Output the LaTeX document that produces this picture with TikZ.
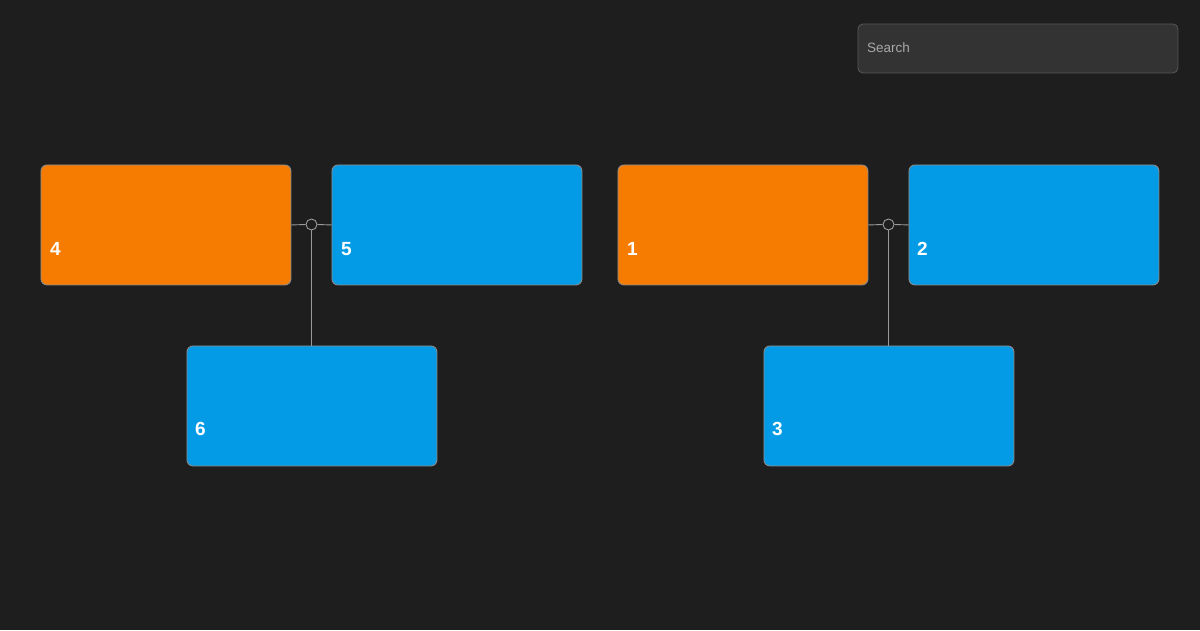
\documentclass[tikz,border=0pt]{standalone}
\usepackage{fontspec}
\setmainfont{Liberation Sans}
\definecolor{bg}{HTML}{1E1E1E}
\definecolor{orangebox}{HTML}{F57C00}
\definecolor{bluebox}{HTML}{039BE5}
\definecolor{boxedge}{HTML}{8A8A8A}
\definecolor{linkcol}{HTML}{9A9A9A}
\definecolor{searchfill}{HTML}{333333}
\definecolor{searchedge}{HTML}{555555}
\definecolor{searchtext}{HTML}{A8A8A8}
\begin{document}
\begin{tikzpicture}[x=1pt,y=-1pt,
  card/.style={draw=boxedge,line width=0.9pt,rounded corners=6pt,minimum width=250pt,minimum height=120pt,inner sep=0pt,anchor=north west},
  orangecard/.style={card,fill=orangebox},
  bluecard/.style={card,fill=bluebox},
  lab/.style={font=\fontsize{19}{19}\selectfont\bfseries,text=white,anchor=base west,inner sep=0pt},
  link/.style={draw=linkcol,line width=0.9pt},
  hub/.style={circle,draw=linkcol,line width=0.9pt,fill=bg,minimum size=11pt,inner sep=0pt}]
\fill[bg] (0,0) rectangle (1200,630);
\useasboundingbox (0,0) rectangle (1200,630);
% search box
\node[draw=searchedge,fill=searchfill,rounded corners=5pt,line width=0.9pt,minimum width=320pt,minimum height=49pt,anchor=north west,inner sep=0pt] (search) at (857.5,23.5) {};
\node[anchor=west,inner sep=0pt,text=searchtext,font=\fontsize{13.5}{13.5}\selectfont] (searchlab) at (867,48) {Search};
% left group
\node[orangecard] (n4) at (40.5,164.5) {};
\node[bluecard] (n5) at (331.5,164.5) {};
\node[bluecard] (n6) at (186.5,345.5) {};
\node[lab] (l4) at (50,255.5) {4};
\node[lab] (l5) at (341,255.5) {5};
\node[lab] (l6) at (195,435.5) {6};
\node[hub] (h1) at (311.5,224.5) {};
\draw[link] (n4.east) -- (h1.west);
\draw[link] (h1.east) -- (n5.west);
\draw[link] (h1.south) -- (h1.south |- n6.north);
% right group
\node[orangecard] (n1) at (617.5,164.5) {};
\node[bluecard] (n2) at (908.5,164.5) {};
\node[bluecard] (n3) at (763.5,345.5) {};
\node[lab] (l1) at (627,255.5) {1};
\node[lab] (l2) at (917,255.5) {2};
\node[lab] (l3) at (772,435.5) {3};
\node[hub] (h2) at (888.5,224.5) {};
\draw[link] (n1.east) -- (h2.west);
\draw[link] (h2.east) -- (n2.west);
\draw[link] (h2.south) -- (h2.south |- n3.north);
\end{tikzpicture}
\end{document}
